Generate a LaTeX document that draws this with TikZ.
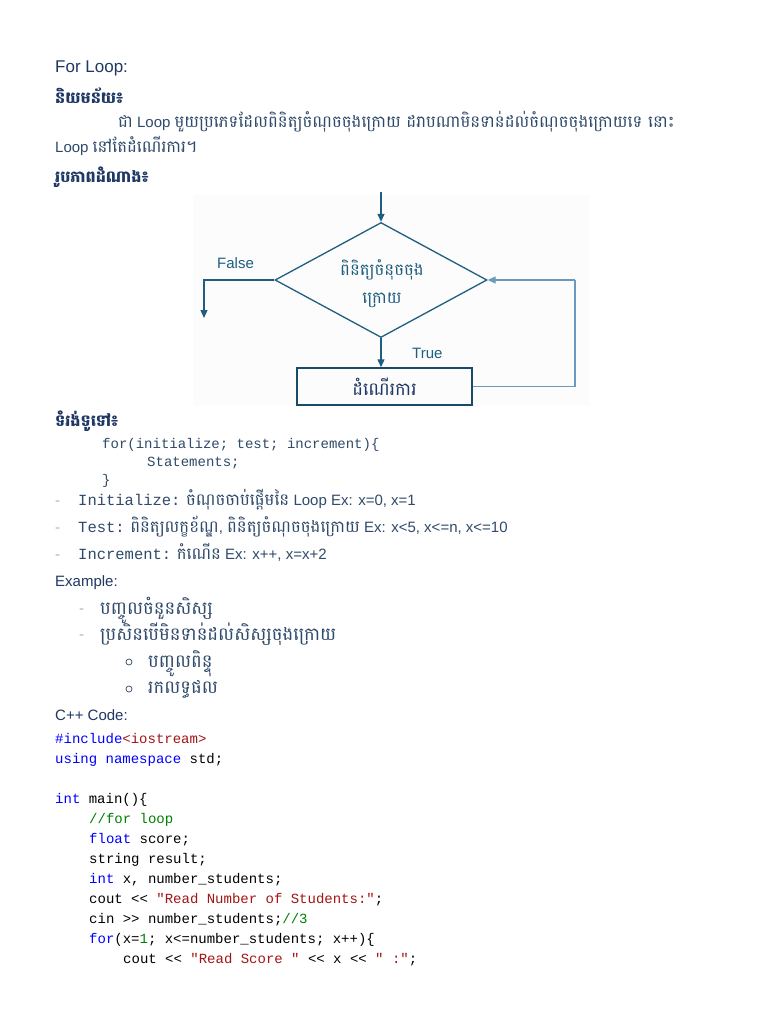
\documentclass[tikz,border=0pt]{standalone}
\usepackage{fontspec}
\setmainfont{Liberation Sans}
\setmonofont{Liberation Mono}
\newfontfamily\km[Script=Khmer]{Battambang}
\usetikzlibrary{shapes.geometric,arrows.meta}
\definecolor{head}{HTML}{1F3864}
\definecolor{body}{HTML}{2F4A6A}
\definecolor{flow}{HTML}{1F5E80}
\definecolor{loopc}{HTML}{6A9AC0}
\definecolor{kw}{HTML}{0000FF}
\definecolor{st}{HTML}{A31515}
\definecolor{cm}{HTML}{008000}
\newcommand{\kk}{\km\fontsize{16.5}{19}\selectfont}
\begin{document}
\begin{tikzpicture}[x=1pt,y=-1pt,
  txt/.style={anchor=base west,inner sep=0pt,text=body,font=\fontsize{15}{18}\selectfont},
  hd/.style={anchor=base west,inner sep=0pt,text=head,font=\fontsize{16}{19}\selectfont},
  khd/.style={anchor=base west,inner sep=0pt,text=head,font=\km\bfseries\fontsize{16}{19}\selectfont},
  code/.style={anchor=base west,inner sep=0pt,text=black,font=\ttfamily\fontsize{14}{16}\selectfont},
  syn/.style={anchor=base west,inner sep=0pt,text=body,font=\ttfamily\fontsize{14}{16}\selectfont},
  fl/.style={draw=flow,line width=1.3pt},
  arr/.style={-{Triangle[width=7pt,length=8pt]},flow,line width=1.3pt}]
\useasboundingbox (0,0) rectangle (768,1024);
\fill[white] (0,0) rectangle (768,1024);
\fill[gray!2] (193,195) rectangle (590,406);
% headings/text
\node[hd,font=\fontsize{17}{20}\selectfont] (t1) at (55,73) {For Loop:};
\node[khd] (t2) at (55,104) {និយមន័យ៖};
\node[txt] (t3) at (118,128) {{\kk ជា} Loop {\kk មួយប្រភេទដែលពិនិត្យចំណុចចុងក្រោយ ដរាបណាមិនទាន់ដល់ចំណុចចុងក្រោយទេ នោះ}};
\node[txt] (t4) at (55,153) {Loop {\kk នៅតែដំណើរការ។}};
\node[khd] (t5) at (55,183) {រូបភាពដំណាង៖};
% flowchart
\coordinate (top) at (381,192);
\node[diamond,fl,minimum width=212pt,minimum height=115pt,inner sep=0pt,aspect=1.84] (dec) at (381,280) {};
\node[text=flow,font=\km\fontsize{16.5}{19}\selectfont,anchor=base] (d1) at (382,275) {ពិនិត្យចំនុចចុង};
\node[text=flow,font=\km\fontsize{16.5}{19}\selectfont,anchor=base] (d2) at (382,303) {ក្រោយ};
\node[draw=flow!80!black,line width=1.5pt,minimum width=175pt,minimum height=37pt,inner sep=0pt,text=head,font=\km\fontsize{18}{21}\selectfont] (proc) at (384.5,386.5) {ដំណើរការ};
\draw[arr] (top) -- (dec.north);
\coordinate (fend) at (204,318);
\draw[arr] (dec.west) -| (fend);
\draw[arr] (dec.south) -- (dec.south|-proc.north);
\coordinate (c1) at (575,386.5);
\coordinate (c2) at (575,280);
\draw[loopc,line width=1.2pt] (proc.east) -- (c1) -- (c2);
\draw[-{Triangle[width=7pt,length=8pt]},loopc,line width=1.2pt] (c2) -- (dec.east);
\node[anchor=base west,inner sep=0pt,text=flow,font=\fontsize{15}{18}\selectfont] (fa) at (217,268) {False};
\node[anchor=base west,inner sep=0pt,text=flow,font=\fontsize{15}{18}\selectfont] (tr) at (412,358) {True};
% syntax
\node[khd] (t6) at (55,426) {ទំរង់ទូទៅ៖};
\node[syn] (s1) at (102,448) {for(initialize; test; increment)\{};
\node[syn] (s2) at (147,466) {Statements;};
\node[syn] (s3) at (102,484) {\}};
\node[txt,text=gray!60] (b1) at (55,505) {-};
\node[txt,text=gray!60] (b2) at (55,532) {-};
\node[txt,text=gray!60] (b3) at (55,559) {-};
\node[txt] (l1) at (78,505) {{\ttfamily\fontsize{15.5}{17}\selectfont Initialize:} {\kk ចំណុចចាប់ផ្តើមនៃ} Loop Ex: x=0, x=1};
\node[txt] (l2) at (78,532) {{\ttfamily\fontsize{15.5}{17}\selectfont Test:} {\kk ពិនិត្យលក្ខខ័ណ្ឌ}, {\kk ពិនិត្យចំណុចចុងក្រោយ} Ex: x<5, x<=n, x<=10};
\node[txt] (l3) at (78,559) {{\ttfamily\fontsize{15.5}{17}\selectfont Increment:} {\kk កំណើន} Ex: x++, x=x+2};
% example
\node[hd,font=\fontsize{15}{18}\selectfont] (t7) at (55,586) {Example:};
\node[txt,text=gray!60] (e0) at (79,613) {-};
\node[txt,text=gray!60] (e00) at (79,639) {-};
\node[txt,font=\km\fontsize{18}{21}\selectfont] (e1) at (100,614) {បញ្ចូលចំនួនសិស្ស};
\node[txt,font=\km\fontsize{18}{21}\selectfont] (e2) at (100,640) {ប្រសិនបើមិនទាន់ដល់សិស្សចុងក្រោយ};
\node[draw=body,circle,inner sep=0pt,minimum size=6pt,line width=0.7pt] (o1) at (129,662) {};
\node[draw=body,circle,inner sep=0pt,minimum size=6pt,line width=0.7pt] (o2) at (129,689) {};
\node[txt,font=\km\fontsize{18}{21}\selectfont] (e3) at (148,667) {បញ្ចូលពិន្ទុ};
\node[txt,font=\km\fontsize{18}{21}\selectfont] (e4) at (148,693) {រកលទ្ធផល};
\node[hd,font=\fontsize{15}{18}\selectfont] (t8) at (55,720) {C++ Code:};
% code
\node[code] (c01) at (55,743) {\textcolor{kw}{\#include}\textcolor{st}{<iostream>}};
\node[code] (c02) at (55,763) {\textcolor{kw}{using namespace} std;};
\node[code] (c03) at (55,803) {\textcolor{kw}{int} main()\{};
\node[code] (c04) at (89,823) {\textcolor{cm}{//for loop}};
\node[code] (c05) at (89,843) {\textcolor{kw}{float} score;};
\node[code] (c06) at (89,863) {string result;};
\node[code] (c07) at (89,883) {\textcolor{kw}{int} x, number\_students;};
\node[code] (c08) at (89,903) {cout << \textcolor{st}{"Read Number of Students:"};};
\node[code] (c09) at (89,923) {cin >> number\_students;\textcolor{cm}{//3}};
\node[code] (c10) at (89,943) {\textcolor{kw}{for}(x=\textcolor{cm}{1}; x<=number\_students; x++)\{};
\node[code] (c11) at (123,963) {cout << \textcolor{st}{"Read Score "} << x << \textcolor{st}{" :"};};
\end{tikzpicture}
\end{document}
